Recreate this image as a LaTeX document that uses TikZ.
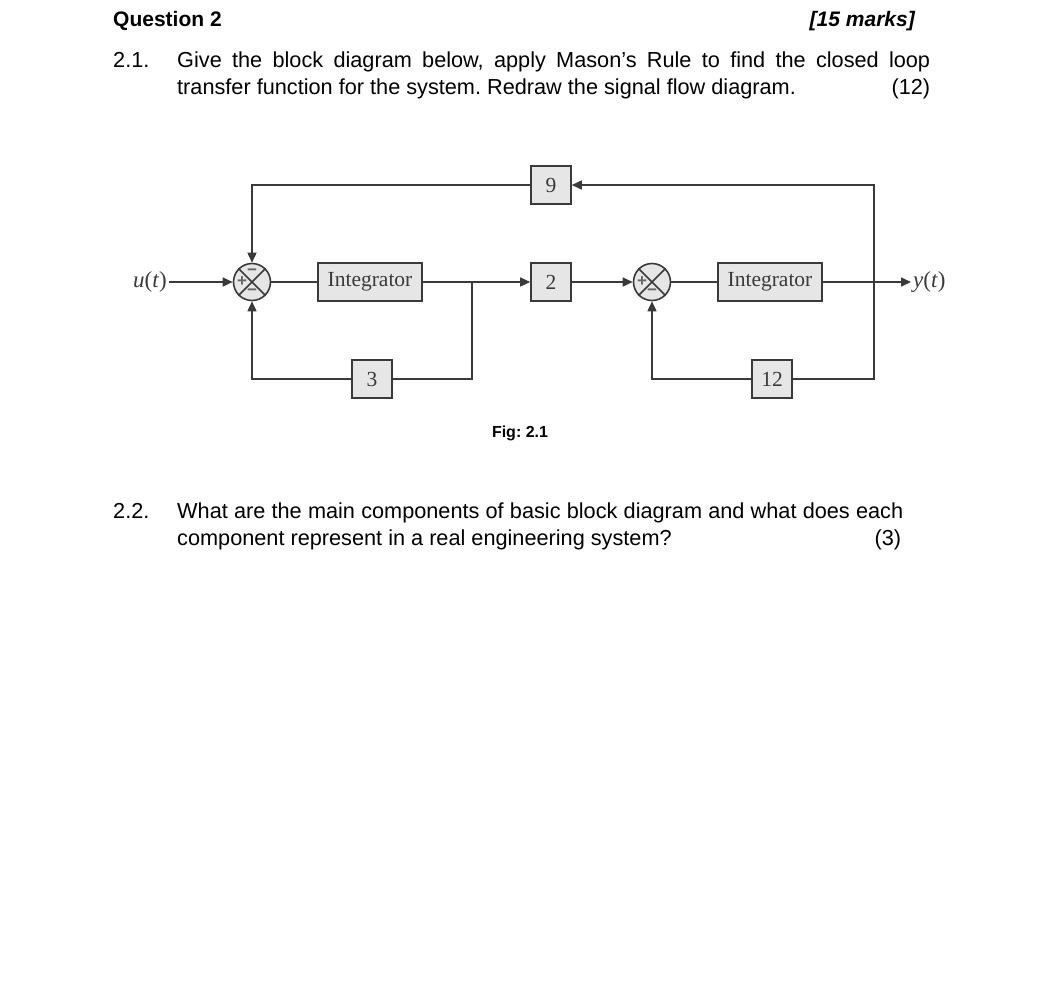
\documentclass[tikz,border=0pt]{standalone}
\usepackage{fontspec}
\setmainfont{Liberation Sans}
\newfontfamily\blockfont{Liberation Serif}
\usetikzlibrary{arrows.meta}
\definecolor{linegray}{HTML}{3A3A3A}
\definecolor{boxgray}{HTML}{E6E6E6}
\tikzset{
  block/.style={draw=linegray,fill=boxgray,line width=1.6pt,minimum height=38pt,inner sep=0pt,text=linegray,font=\blockfont\fontsize{21.5}{24}\selectfont},
  gain/.style={block,minimum width=40pt},
  integ/.style={block,minimum width=104pt},
  sumj/.style={circle,draw=linegray,fill=boxgray,line width=1.6pt,minimum size=37pt,inner sep=0pt},
  sgn/.style={inner sep=0pt,text=gray!80!black,font=\bfseries\fontsize{17}{17}\selectfont},
  wire/.style={draw=linegray,line width=1.6pt},
  sig/.style={wire,-{Triangle[length=10pt,width=9pt]}},
  sigtext/.style={inner sep=2pt,text=linegray,font=\blockfont\fontsize{23}{26}\selectfont},
  body/.style={inner sep=0pt,font=\fontsize{21.7}{27}\selectfont}
}
\frenchspacing
\begin{document}
\begin{tikzpicture}[x=1pt,y=1pt]
\useasboundingbox (0,0) rectangle (1045,-988);
\node[anchor=base west,inner sep=0pt,font=\bfseries\fontsize{21}{25}\selectfont] (qhead) at (113,-26) {Question 2};
\node[anchor=base east,inner sep=0pt,font=\bfseries\itshape\fontsize{21}{25}\selectfont] (qmarks) at (915,-26) {[15 marks]};
\node[body,anchor=base west] (qone) at (113,-67) {2.1.};
\node[body,anchor=base west] (qonea) at (177,-67) {\hbox to 753pt{Give the block diagram below, apply Mason’s Rule to find the closed loop}};
\node[body,anchor=base west] (qoneb) at (177,-94) {\hbox to 753pt{transfer function for the system. Redraw the signal flow diagram.\hfill(12)}};
\node[sumj] (sum1) at (252,-282) {};
\node[integ] (int1) at (370,-282) {Integrator};
\node[gain] (blk2) at (551,-282) {2};
\node[sumj] (sum2) at (652,-282) {};
\node[integ] (int2) at (770,-282) {Integrator};
\node[gain] (blk9) at (551,-185) {9};
\node[gain] (blk3) at (372,-379) {3};
\node[gain] (blk12) at (772,-379) {12};
\node[sigtext,anchor=east] (uin) at (169,-282) {\textit{u}(\textit{t})};
\node[sigtext,anchor=west] (yout) at (911,-282) {\textit{y}(\textit{t})};
\coordinate (br1) at (472,-282);
\coordinate (br2) at (874,-282);
\draw[wire] (sum1.45) -- (sum1.225);
\draw[wire] (sum1.135) -- (sum1.-45);
\draw[wire] (sum2.45) -- (sum2.225);
\draw[wire] (sum2.135) -- (sum2.-45);
\node[sgn] (s1p) at ([xshift=-10pt]sum1.center) {+};
\node[sgn] (s1t) at ([yshift=10pt]sum1.center) {−};
\node[sgn] (s1b) at ([yshift=-10pt]sum1.center) {−};
\node[sgn] (s2p) at ([xshift=-10pt]sum2.center) {+};
\node[sgn] (s2b) at ([yshift=-10pt]sum2.center) {−};
\draw[sig] (uin) -- (sum1);
\draw[wire] (sum1) -- (int1);
\draw[sig] (int1) -- (blk2);
\draw[sig] (blk2) -- (sum2);
\draw[wire] (sum2) -- (int2);
\draw[sig] (int2) -- (yout.west);
\draw[sig] (br2) |- (blk9.east);
\draw[sig] (blk9.west) -| (sum1.north);
\draw[wire] (br1) |- (blk3.east);
\draw[sig] (blk3.west) -| (sum1.south);
\draw[wire] (br2) |- (blk12.east);
\draw[sig] (blk12.west) -| (sum2.south);
\node[anchor=base,inner sep=0pt,font=\bfseries\fontsize{16}{19}\selectfont] (figcap) at (520,-437) {Fig: 2.1};
\node[body,anchor=base west] (qtwo) at (113,-518) {2.2.};
\node[body,anchor=base west] (qtwoa) at (177,-518) {\hbox to 726pt{What are the main components of basic block diagram and what does each}};
\node[body,anchor=base west] (qtwob) at (177,-545) {\hbox to 724pt{component represent in a real engineering system?\hfill(3)}};
\end{tikzpicture}
\end{document}
